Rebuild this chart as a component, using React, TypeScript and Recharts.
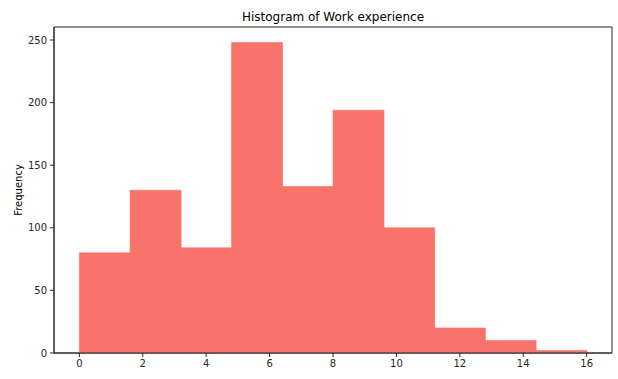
import { BarChart, Bar, XAxis, YAxis, ReferenceArea } from "recharts";

// histogram bins (edges) and counts
const binEdges = [0, 1.6, 3.2, 4.8, 6.4, 8, 9.6, 11.2, 12.8, 14.4, 16];
const frequencies = [80, 130, 84, 248, 133, 194, 100, 20, 10, 2];
const xTicks = [0, 2, 4, 6, 8, 10, 12, 14, 16];
const yTicks = [0, 50, 100, 150, 200, 250];

const xDomain: [number, number] = [-0.8, 16.8];
const yDomain: [number, number] = [0, 260.4];

const W = 618;
const H = 379;
const M = { top: 27, right: 6, bottom: 0, left: 0 };
const Y_AXIS_W = 54;
const X_AXIS_H = 26;

const ink = "#262626";
const barFill = "#f8736a";
const font = "DejaVu Sans, sans-serif";

// bars sit on the bin midpoints of a numeric axis
const data = frequencies.map((count, i) => ({
  mid: (binEdges[i] + binEdges[i + 1]) / 2,
  count,
}));

export default function App() {
  const plotW = W - M.left - M.right - Y_AXIS_W;

  return (
    <div style={{ position: "absolute", left: 0, top: 0, width: W, height: H, background: "#fff", fontFamily: font }}>
      <div
        style={{
          position: "absolute",
          top: 10,
          left: M.left + Y_AXIS_W,
          width: plotW,
          textAlign: "center",
          fontSize: 12,
          color: "#000",
        }}
      >
        Histogram of Work experience
      </div>
      <BarChart width={W} height={H} data={data} margin={M} barCategoryGap={0} barGap={0}>
        <XAxis
          dataKey="mid"
          type="number"
          domain={xDomain}
          allowDataOverflow
          ticks={xTicks}
          height={X_AXIS_H}
          tickSize={4}
          tickMargin={3}
          axisLine={{ stroke: ink, strokeWidth: 1 }}
          tickLine={{ stroke: ink }}
          tick={{ fill: ink, fontSize: 10, fontFamily: font }}
        />
        <YAxis
          type="number"
          domain={yDomain}
          allowDataOverflow
          ticks={yTicks}
          width={Y_AXIS_W}
          tickSize={4}
          tickMargin={3}
          axisLine={{ stroke: ink, strokeWidth: 1 }}
          tickLine={{ stroke: ink }}
          tick={{ fill: ink, fontSize: 10, fontFamily: font }}
          label={{
            value: "Frequency",
            angle: -90,
            position: "insideLeft",
            offset: 18,
            style: { fill: "#000", fontSize: 10, fontFamily: font, textAnchor: "middle" },
          }}
        />
        <Bar
          dataKey="count"
          fill={barFill}
          stroke={barFill}
          strokeWidth={0.6}
          isAnimationActive={false}
        />
        <ReferenceArea
          x1={xDomain[0]}
          x2={xDomain[1]}
          y1={yDomain[0]}
          y2={yDomain[1]}
          fill="none"
          stroke={ink}
          strokeWidth={1}
          ifOverflow="visible"
        />
      </BarChart>
    </div>
  );
}
